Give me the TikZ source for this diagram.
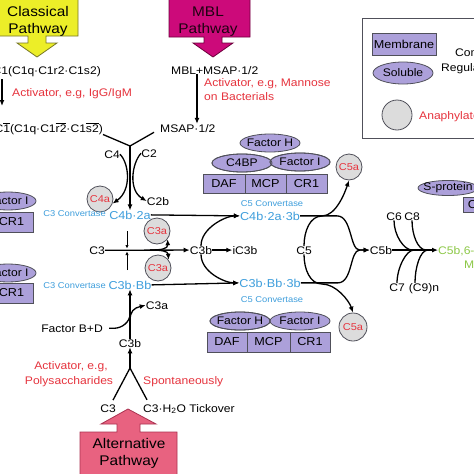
\documentclass[tikz,border=0pt]{standalone}
\usepackage{fontspec}
\setmainfont{Liberation Sans}[FakeStretch=1.1]
\usetikzlibrary{arrows.meta,shapes.geometric}
\definecolor{redtxt}{RGB}{230,52,62}
\definecolor{bluetxt}{RGB}{62,158,220}
\definecolor{greentxt}{RGB}{140,200,70}
\definecolor{lav}{RGB}{172,160,218}
\definecolor{edgegray}{RGB}{80,80,90}
\definecolor{anagray}{RGB}{220,220,220}
\definecolor{classy}{RGB}{236,238,40}
\definecolor{classyd}{RGB}{120,120,40}
\definecolor{mblc}{RGB}{204,10,122}
\definecolor{mblcd}{RGB}{110,0,60}
\definecolor{altc}{RGB}{232,98,128}
\definecolor{altcd}{RGB}{170,50,80}
\newcommand{\myfs}[1]{\fontsize{#1}{#1}\selectfont}
\begin{document}
\begin{tikzpicture}[x=1pt,y=-1pt,
 lbl/.style={inner sep=0pt,font=\myfs{11}},
 rtxt/.style={inner sep=0pt,font=\myfs{11},text=redtxt},
 btxt/.style={inner sep=0pt,font=\myfs{11.5},text=bluetxt},
 conv/.style={inner sep=0pt,font=\myfs{8.5},text=bluetxt},
 memb/.style={rectangle,draw=edgegray,fill=lav,line width=0.8pt,minimum height=19pt,inner sep=0pt,font=\myfs{11.5}},
 sol/.style={ellipse,draw=edgegray,fill=lav,line width=0.8pt,minimum width=60pt,minimum height=18pt,inner xsep=-4pt,inner ysep=0pt,font=\myfs{11}},
 ana/.style={circle,draw=edgegray,fill=anagray,line width=0.8pt,minimum size=26pt,inner sep=0pt,text=redtxt,font=\myfs{10}},
 ln/.style={line width=1.3pt},
 arr/.style={line width=1.3pt,-{Latex[length=6pt,width=5pt]}},
 arrs/.style={line width=1pt,-{Latex[length=3.5pt,width=3.5pt]}},
 pwt/.style={inner sep=0pt,font=\myfs{14}},
 ring/.style={edgegray,line width=0.8pt},
]
\useasboundingbox (0,0) rectangle (474,474);
\clip (0,0) rectangle (474,474);
\fill[white] (0,0) rectangle (474,474);

% ---- pathway block arrows
\draw[fill=classy,draw=classyd,line width=0.8pt] (-5,-5) -- (78,-5) -- (78,36) -- (46,36) -- (46,43) -- (57,43) -- (37,57) -- (17,43) -- (28,43) -- (28,36) -- (-5,36) -- cycle;
\node[pwt,anchor=base] (clsA) at (38,16) {Classical};
\node[pwt,anchor=base] (clsB) at (38,33) {Pathway};

\draw[fill=mblc,draw=mblcd,line width=0.8pt] (169,-5) -- (250,-5) -- (250,37) -- (222,37) -- (222,43) -- (233,43) -- (213,57) -- (193,43) -- (204,43) -- (204,37) -- (169,37) -- cycle;
\node[pwt,anchor=base,text=black!85!mblc] (mblA) at (208,16) {MBL};
\node[pwt,anchor=base,text=black!85!mblc] (mblB) at (208,33) {Pathway};

\draw[fill=altc,draw=altcd,line width=0.8pt] (80,480) -- (80,432) -- (117,432) -- (117,424) -- (101,424) -- (128,409) -- (156,424) -- (140,424) -- (140,432) -- (177,432) -- (177,480) -- cycle;
\node[pwt,anchor=base] (altA) at (129,448) {Alternative};
\node[pwt,anchor=base] (altB) at (129,465) {Pathway};

% ---- classical / MBL texts
\node[lbl,anchor=base east] (c1) at (101,74) {C1(C1q·C1r2·C1s2)};
\node[rtxt,anchor=base west] (actA) at (12,96) {Activator, e.g, IgG/IgM};
\coordinate (c1s) at (2,79);
\coordinate (c1e) at (2,106);
\draw[arr] (c1s) -- (c1e);
\node[lbl,anchor=base east] (c1act) at (103,132) {C$\overline{\mbox{1}}$(C1q·C1$\overline{\mbox{r2}}$·C1$\overline{\mbox{s2}}$)};

\node[lbl,anchor=base west] (mbl) at (171,74) {MBL+MSAP·1/2};
\node[rtxt,anchor=base west] (actB1) at (204,86) {Activator, e.g, Mannose};
\node[rtxt,anchor=base west] (actB2) at (204,100) {on Bacterials};
\node[lbl,anchor=base west] (msap) at (160,132) {MSAP·1/2};
\draw[arr] ([xshift=26pt]mbl.south west) -- ([xshift=37pt]msap.north west);

\coordinate (j1) at (130,146);
\draw[ln] (c1act.south east) -- (j1);
\draw[ln] ([xshift=-6pt]msap.south west) -- (j1);

% ---- C4 / C2 cleavage
\node[lbl,anchor=base] (c4) at (112,158) {C4};
\node[lbl,anchor=base] (c2) at (149,157) {C2};
\node[lbl,anchor=base] (c2b) at (158,205) {C2b};
\node[ana] (c4a) at (100,199) {C4a};
\node[btxt,anchor=base] (c4b2a) at (130,219) {C4b·2a};
\node[conv,anchor=base east] (cv1) at (106,216) {C3 Convertase};
\draw[arr] (j1) -- (c4b2a.north);
\draw[arr] (c4.east) .. controls (129,163) and (132,190) .. (c4a.-20);
\draw[arr] (c2.west) .. controls (132,163) and (128,190) .. (c2b.west);

% ---- C3 cleavage
\node[ana] (c3aA) at (157,231) {C3a};
\node[ana] (c3aB) at (158,268) {C3a};
\node[lbl,anchor=base] (c3) at (97,254) {C3};
\node[lbl,anchor=base] (c3b) at (201,254) {C3b};
\node[lbl,anchor=base] (ic3b) at (245,254) {iC3b};
\draw[arr] (c3.east) -- (c3b.west);
\draw[arr] (c3b.east) -- (ic3b.west);
\coordinate (fk) at (150,250);
\draw[arr] (fk) .. controls (161,250) and (168,249) .. (c3aA.-38);
\draw[arr] (fk) .. controls (161,250) and (168,251) .. (c3aB.38);
\coordinate (t1) at (127,231);
\coordinate (t2) at (127,248.5);
\coordinate (t3) at (127,270);
\coordinate (t4) at (127,251.5);
\draw[arrs] (t1) -- (t2);
\draw[arrs] (t3) -- (t4);

\node[btxt,anchor=base] (c3bbb) at (130,289) {C3b·Bb};
\node[conv,anchor=base east] (cv2) at (106,288) {C3 Convertase};

% ---- C5 convertases
\node[btxt,anchor=base] (c4b2a3b) at (270,220) {C4b·2a·3b};
\node[conv,anchor=base] (cv3) at (272,206) {C5 Convertase};
\node[btxt,anchor=base] (c3bbb3b) at (270,287) {C3b·Bb·3b};
\node[conv,anchor=base] (cv4) at (272,302) {C5 Convertase};
\draw[arr] (c4b2a.east) -- (c4b2a3b.west);
\draw[arr] (c3bbb.east) -- (c3bbb3b.west);
\draw[arr] (c3b.north) .. controls +(0,-18) and +(-14,0) .. (c4b2a3b.west);
\draw[arr] (c3b.south) .. controls +(0,18) and +(-14,0) .. (c3bbb3b.west);

% ---- C5 cleavage
\node[lbl,anchor=base] (c5) at (304,254) {C5};
\node[lbl,anchor=base] (c5b) at (381,254) {C5b};
\node[ana] (c5aA) at (349,167) {C5a};
\node[ana,minimum size=28pt] (c5aB) at (353,327) {C5a};
\draw[arr] (c4b2a3b.east) -- ++(37,0) .. controls +(15,0) and +(-10,0) .. ([xshift=-10pt]c5b.west) -- (c5b.west);
\draw[arr] (c3bbb3b.east) -- ++(37,0) .. controls +(15,0) and +(-10,0) .. ([xshift=-10pt]c5b.west) -- (c5b.west);
\draw[arr] (c5.north) .. controls +(0,-15) and +(-12,0) .. (322,216) .. controls +(14,0) and +(-4,12) .. (c5aA.south);
\draw[arr] (c5.south) .. controls +(0,15) and +(-12,0) .. (322,284) .. controls +(14,0) and +(-4,-12) .. (c5aB.north);

% ---- MAC
\node[inner sep=0pt,font=\myfs{11},text=greentxt,anchor=base west] (mac1) at (438,254) {C5b,6-9};
\node[inner sep=0pt,font=\myfs{11},text=greentxt,anchor=base west] (mac2) at (464,268) {MAC};
\draw[arr] (c5b.east) -- (c5b.east -| mac1.west);
\node[lbl,anchor=base] (c6) at (394,220) {C6};
\node[lbl,anchor=base] (c8) at (412,220) {C8};
\node[lbl,anchor=base] (c7) at (397,291) {C7};
\node[lbl,anchor=base] (c9n) at (424,291) {(C9)n};
\draw[ln] (c6.south) .. controls +(0,15) and +(-8,0) .. (412,250);
\draw[ln] (c8.south) .. controls +(0,15) and +(-8,0) .. (426,250);
\draw[ln] (c7.north) .. controls +(0,-15) and +(-8,0) .. (414,250);
\draw[ln] ([xshift=-9pt]c9n.north) .. controls +(0,-15) and +(-8,0) .. (428,250);

% ---- alternative pathway
\node[lbl,anchor=base east] (fbd) at (103,332) {Factor B+D};
\node[lbl,anchor=base] (c3b2) at (130,347) {C3b};
\node[lbl,anchor=base] (c3aL) at (157,309) {C3a};
\draw[arr] (c3b2.north) -- (c3bbb.south);
\draw[ln] ([xshift=6pt]fbd.east) -- ++(5,0) .. controls +(8,0) and +(0,8) .. (130,314);
\coordinate (brc) at (130,321);
\draw[arr] (brc) .. controls (130,311) and (134,308) .. (c3aL.west);
\node[lbl,anchor=base] (c3bot) at (108,412) {C3};
\node[lbl,anchor=base west] (c3h2o) at (143,412) {C3·H\textsubscript{2}O Tickover};
\coordinate (j2) at (130,368);
\draw[ln] ([xshift=5pt,yshift=4pt]c3bot.north) -- (j2);
\draw[ln] ([xshift=4pt,yshift=4pt]c3h2o.north west) -- (j2);
\draw[arr] (j2) -- (c3b2.south);
\node[rtxt,anchor=base] (actC1) at (71,369) {Activator, e.g,};
\node[rtxt,anchor=base] (actC2) at (69,384) {Polysaccharides};
\node[rtxt,anchor=base west] (spont) at (143,384) {Spontaneously};

% ---- regulators upper
\node[memb,minimum width=42pt] (daf1) at (224,183.5) {DAF};
\node[memb,minimum width=41pt] (mcp1) at (265.5,183.5) {MCP};
\node[memb,minimum width=41pt] (cr1a) at (306.5,183.5) {CR1};
\node[sol] (c4bp) at (242,163) {C4BP};
\node[sol] (fi1) at (300,162) {Factor I};
\node[sol] (fh1) at (270,143) {Factor H};
\draw[ring] (c4bp.center) ellipse [x radius=30pt,y radius=9pt];
\draw[ring] (fi1.center) ellipse [x radius=30pt,y radius=9pt];

% ---- regulators lower
\node[memb,minimum width=40pt,minimum height=20pt] (daf2) at (227,342) {DAF};
\node[memb,minimum width=43pt,minimum height=20pt] (mcp2) at (268.5,342) {MCP};
\node[memb,minimum width=40pt,minimum height=20pt] (cr1b) at (310,342) {CR1};
\node[sol] (fh2) at (240,321) {Factor H};
\node[sol] (fi2) at (300,321) {Factor I};
\draw[ring] (fh2.center) ellipse [x radius=30pt,y radius=9pt];

% ---- regulators left (cut off)
\node[memb,minimum width=43pt,minimum height=20pt] (cr1l1) at (11.5,222) {CR1};
\node[sol,minimum width=56pt] (fil1) at (8,201) {Factor I};
\node[memb,minimum width=43pt,minimum height=20pt] (cr1l2) at (11.5,293) {CR1};
\node[sol,minimum width=56pt] (fil2) at (8,273) {Factor I};

% ---- regulators right (cut off)
\node[memb,minimum width=42pt,minimum height=15pt] (cd59) at (484,205) {CD59};
\node[sol,minimum height=15pt] (sprot) at (448,188) {S-protein};

% ---- legend
\draw[edgegray,line width=0.9pt] (362,18) rectangle (480,138);
\node[memb,minimum width=64pt,minimum height=22pt] (lgm) at (404,44) {Membrane};
\node[sol,minimum width=60pt,minimum height=22pt] (lgs) at (403,73) {Soluble};
\node[ana,minimum size=30pt] (lga) at (397,115) {};
\node[lbl,anchor=base west] (lgc1) at (455,56) {Complement};
\node[lbl,anchor=base west] (lgc2) at (441,71) {Regulators};
\node[rtxt,anchor=base west] (lgan) at (419,119) {Anaphylatoxin};
\end{tikzpicture}
\end{document}
